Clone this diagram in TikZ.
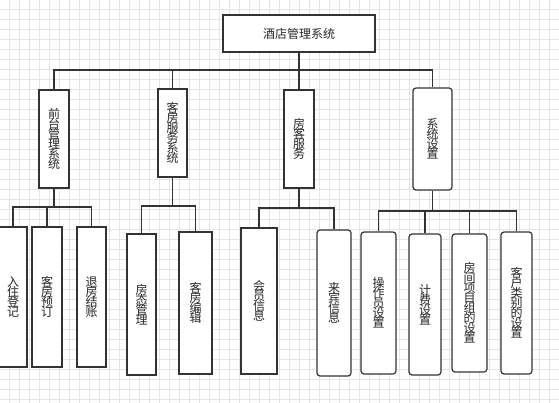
\documentclass[tikz,border=0pt]{standalone}
\usepackage{fontspec}
\newfontfamily\cjk{Noto Sans CJK SC}
\newcommand{\myvfont}{\cjk\fontsize{12}{10}\selectfont\lineskiplimit=-20pt\relax\lineskip=0pt\relax}
\begin{document}
\begin{tikzpicture}[x=1pt,y=-1pt,
  box/.style={draw=black!80, line width=1.2pt, fill=white, inner sep=0pt, align=center, text=black!85},
  rbox/.style={box, rounded corners=3pt},
  vtxt/.style={font=\myvfont},
  conn/.style={draw=black!80, line width=1.2pt}
]
\useasboundingbox (0,0) rectangle (559,403);
\fill[white] (0,0) rectangle (559,403);
% grid
\foreach \x in {9,19,...,559} \draw[black!10, line width=0.6pt] (\x,0) -- (\x,403);
\foreach \y in {9,19,...,403} \draw[black!10, line width=0.6pt] (0,\y) -- (559,\y);

% top
\node[box, minimum width=152pt, minimum height=37pt, font=\cjk\fontsize{12}{12}\selectfont] (top) at (299,33.5) {酒店管理系统};

% level 2
\node[box, vtxt, minimum width=30pt, minimum height=98pt] (b1) at (54,139) {前\\台\\管\\理\\系\\统};
\node[box, vtxt, minimum width=29pt, minimum height=88pt] (b2) at (172.5,133) {客\\房\\服\\务\\系\\统};
\node[box, vtxt, minimum width=30pt, minimum height=98pt] (b3) at (299,139) {房\\客\\服\\务};
\node[rbox, vtxt, minimum width=39pt, minimum height=102pt] (b4) at (432.5,139) {系\\统\\设\\置};

% level 3
\node[box, vtxt, minimum width=28pt, minimum height=140pt] (c11) at (13,297) {入\\住\\登\\记};
\node[box, vtxt, minimum width=30pt, minimum height=140pt] (c12) at (47,297) {客\\房\\预\\订};
\node[box, vtxt, minimum width=29pt, minimum height=140pt] (c13) at (91.5,297) {退\\房\\结\\账};

\node[box, vtxt, minimum width=29pt, minimum height=141pt] (c21) at (141.5,304.5) {房\\态\\管\\理};
\node[box, vtxt, minimum width=33pt, minimum height=142pt] (c22) at (195.5,303) {客\\房\\编\\辑};

\node[box, vtxt, minimum width=36pt, minimum height=146pt] (c31) at (259,301) {会\\员\\信\\息};
\node[rbox, vtxt, minimum width=34pt, minimum height=146pt] (c32) at (334,303) {来\\宾\\信\\息};

\node[rbox, vtxt, minimum width=35pt, minimum height=142pt] (c41) at (378.5,303) {操\\作\\员\\设\\置};
\node[rbox, vtxt, minimum width=32pt, minimum height=141pt] (c42) at (425,304.5) {计\\费\\设\\置};
\node[rbox, vtxt, minimum width=35pt, minimum height=138pt] (c43) at (469.5,303) {房\\间\\项\\目\\组\\的\\设\\置};
\node[rbox, vtxt, minimum width=31pt, minimum height=142pt] (c44) at (516.5,303) {客\\户\\类\\别\\的\\设\\置};

% bus coordinates
\coordinate (g0) at (0,70);
\coordinate (g1) at (0,207);
\coordinate (g2) at (0,206);
\coordinate (g3) at (0,208);
\coordinate (g4) at (0,211);

% connectors
\foreach \n in {b1,b2,b3,b4}
  \draw[conn] (top.south) -- (top.south |- g0) -| (\n.north);
\foreach \n in {c11,c12,c13}
  \draw[conn] (b1.south) -- (b1.south |- g1) -| (\n.north);
\foreach \n in {c21,c22}
  \draw[conn] (b2.south) -- (b2.south |- g2) -| (\n.north);
\foreach \n in {c31,c32}
  \draw[conn] (b3.south) -- (b3.south |- g3) -| (\n.north);
\foreach \n in {c41,c42,c43,c44}
  \draw[conn] (b4.south) -- (b4.south |- g4) -| (\n.north);
\end{tikzpicture}
\end{document}
